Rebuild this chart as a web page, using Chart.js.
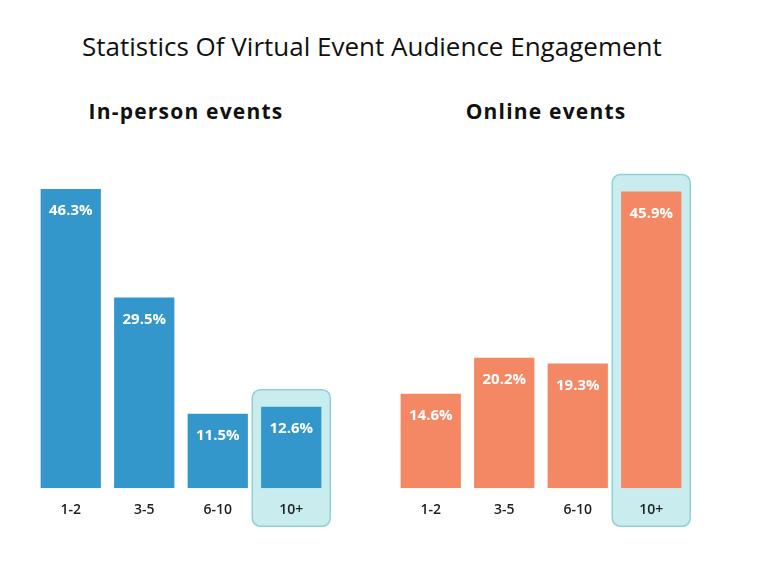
<!DOCTYPE html>
<html>
<head>
<meta charset="utf-8">
<script src="https://cdn.jsdelivr.net/npm/chart.js@4.4.0/dist/chart.umd.min.js"></script>
<style>
  html, body { margin: 0; padding: 0; background: #fff; }
  #wrap { position: relative; width: 767px; height: 561px; overflow: hidden; }
  #wrap canvas { position: absolute; left: 0; top: 0; }
  .titulo { position: absolute; white-space: nowrap; color: #111; font-family: "Open Sans", sans-serif; line-height: 1; }
  #titulo-principal { left: 82px; top: 33px; font-size: 26px; }
  .subtitulo { top: 101px; font-size: 21px; font-weight: 700; letter-spacing: 1.2px; transform: translateX(-50%); }
</style>
</head>
<body>
<div id="wrap">
  <div id="titulo-principal" class="titulo">Statistics Of Virtual Event Audience Engagement</div>
  <div class="titulo subtitulo" style="left:186px">In-person events</div>
  <div class="titulo subtitulo" style="left:546px">Online events</div>
  <canvas id="graficoPresencial" width="767" height="561"></canvas>
  <canvas id="graficoOnline" width="767" height="561"></canvas>
</div>
<script>
// Datos
const categorias = ['1-2', '3-5', '6-10', '10+'];
const presencial = [46.3, 29.5, 11.5, 12.6];
const online = [14.6, 20.2, 19.3, 45.9];
const destacado = 3; // categoria resaltada

// Caja resaltada detras de la barra y de su etiqueta
const cajaDestacada = {
  id: 'cajaDestacada',
  beforeDraw(chart) {
    const { ctx, scales: { x, y } } = chart;
    const valor = chart.data.datasets[0].data[destacado];
    const cx = x.getPixelForValue(destacado);
    const left = cx - 39, right = cx + 39;
    const top = y.getPixelForValue(valor) - 17;
    const bottom = y.getPixelForValue(0) + 38;
    ctx.save();
    ctx.beginPath();
    ctx.roundRect(left, top, right - left, bottom - top, 8);
    ctx.fillStyle = '#c9edee';
    ctx.fill();
    ctx.lineWidth = 1.5;
    ctx.strokeStyle = '#92d0d6';
    ctx.stroke();
    ctx.restore();
  }
};

// Etiquetas de valor dentro de las barras
const etiquetas = {
  id: 'etiquetas',
  afterDatasetsDraw(chart) {
    const { ctx } = chart;
    const meta = chart.getDatasetMeta(0);
    ctx.save();
    ctx.fillStyle = '#fff';
    ctx.font = 'bold 15px "Open Sans", sans-serif';
    ctx.textAlign = 'center';
    ctx.textBaseline = 'middle';
    meta.data.forEach((bar, i) => {
      ctx.fillText(chart.data.datasets[0].data[i].toFixed(1) + '%', bar.x, bar.y + 22);
    });
    ctx.restore();
  }
};

function crearGrafico(id, datos, color, padIzq, padDer) {
  return new Chart(document.getElementById(id), {
    type: 'bar',
    data: {
      labels: categorias,
      datasets: [{
        data: datos,
        backgroundColor: color,
        borderWidth: 0,
        barPercentage: 0.82,
        categoryPercentage: 1
      }]
    },
    options: {
      responsive: false,
      animation: false,
      events: [],
      layout: { padding: { left: padIzq, right: padDer, top: 165, bottom: 30 } },
      plugins: { legend: { display: false }, tooltip: { enabled: false } },
      scales: {
        x: {
          grid: { display: false, drawTicks: false },
          border: { display: false },
          ticks: {
            padding: 13,
            color: '#222',
            font: { family: '"Open Sans", sans-serif', size: 14, weight: '600' }
          }
        },
        y: { display: false, min: 0, max: 50 }
      }
    },
    plugins: [cajaDestacada, etiquetas]
  });
}

crearGrafico('graficoPresencial', presencial, '#3397cb', 34, 439);
crearGrafico('graficoOnline', online, '#f48865', 394, 79);
</script>
</body>
</html>
